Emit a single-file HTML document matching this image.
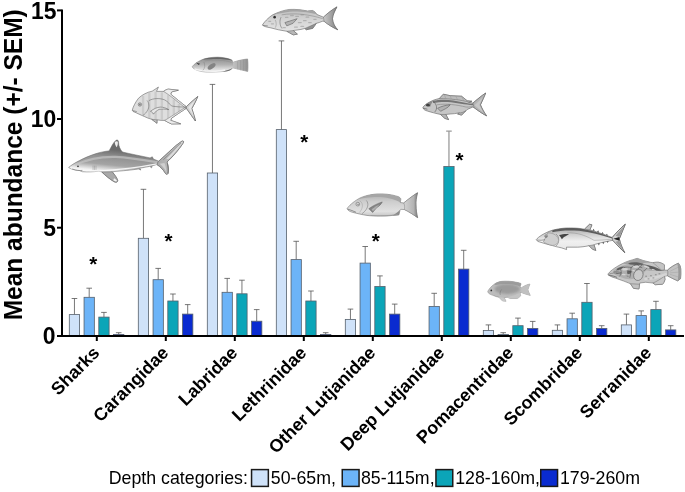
<!DOCTYPE html>
<html><head><meta charset="utf-8"><title>Mean abundance by depth</title>
<style>html,body{margin:0;padding:0;background:#fff}svg{display:block}</style></head>
<body>
<svg width="685" height="492" viewBox="0 0 685 492" font-family="'Liberation Sans', Arial, sans-serif">
<rect width="685" height="492" fill="#fff"/>
<defs>
<linearGradient id="gS" x1="0" y1="0" x2="0" y2="1"><stop offset="0" stop-color="#6f6f6f"/><stop offset="0.45" stop-color="#a9a9a9"/><stop offset="0.7" stop-color="#dcdcdc"/><stop offset="1" stop-color="#f2f2f2"/></linearGradient>
<linearGradient id="gA" x1="0" y1="0" x2="0" y2="1"><stop offset="0" stop-color="#a6a6a6"/><stop offset="0.55" stop-color="#c6c6c6"/><stop offset="1" stop-color="#e6e6e6"/></linearGradient>
<linearGradient id="gB" x1="0" y1="0" x2="0" y2="1"><stop offset="0" stop-color="#8c8c8c"/><stop offset="0.5" stop-color="#b4b4b4"/><stop offset="1" stop-color="#e2e2e2"/></linearGradient>
<linearGradient id="gT" x1="0" y1="0" x2="0" y2="1"><stop offset="0" stop-color="#8a8a8a"/><stop offset="0.35" stop-color="#cfcfcf"/><stop offset="0.6" stop-color="#f0f0f0"/><stop offset="1" stop-color="#e4e4e4"/></linearGradient>
<linearGradient id="gS2" gradientUnits="userSpaceOnUse" x1="300" y1="88" x2="288" y2="208"><stop offset="0" stop-color="#6a6a6a"/><stop offset="0.35" stop-color="#939393"/><stop offset="0.7" stop-color="#a4a4a4"/><stop offset="0.88" stop-color="#d4d4d4"/><stop offset="1" stop-color="#f4f4f4"/></linearGradient>
<linearGradient id="gW" x1="0" y1="0" x2="0" y2="1"><stop offset="0" stop-color="#8a8a8a"/><stop offset="0.5" stop-color="#b2b2b2"/><stop offset="0.8" stop-color="#dcdcdc"/><stop offset="1" stop-color="#ececec"/></linearGradient>
<linearGradient id="gWt" x1="0" y1="0" x2="1" y2="0"><stop offset="0" stop-color="#c2c2c2"/><stop offset="1" stop-color="#949494"/></linearGradient>
<linearGradient id="gL" x1="0" y1="0" x2="0" y2="1"><stop offset="0" stop-color="#b8b8b8"/><stop offset="0.5" stop-color="#d6d6d6"/><stop offset="1" stop-color="#e8e8e8"/></linearGradient>
<linearGradient id="gLt" x1="0" y1="0" x2="1" y2="0"><stop offset="0" stop-color="#cacaca"/><stop offset="1" stop-color="#808080"/></linearGradient>
<linearGradient id="gO" x1="0" y1="0" x2="0" y2="1"><stop offset="0" stop-color="#a8a8a8"/><stop offset="0.35" stop-color="#cdcdcd"/><stop offset="0.75" stop-color="#e0e0e0"/><stop offset="1" stop-color="#bcbcbc"/></linearGradient>
<linearGradient id="gOt" x1="0" y1="0" x2="1" y2="0"><stop offset="0" stop-color="#d4d4d4"/><stop offset="0.7" stop-color="#b4b4b4"/><stop offset="1" stop-color="#7c7c7c"/></linearGradient>
<filter id="bl" x="-20%" y="-30%" width="140%" height="160%"><feGaussianBlur stdDeviation="14"/></filter>
<linearGradient id="gSt" x1="0" y1="0" x2="1" y2="0"><stop offset="0" stop-color="#a8a8a8"/><stop offset="0.5" stop-color="#bcbcbc"/><stop offset="1" stop-color="#d6d6d6"/></linearGradient>
</defs>
<!-- shark -->
<g transform="translate(64 134) scale(0.18393)" stroke-linejoin="round">
<path d="M25 182 C50 160 110 128 170 108 C200 98 225 94 245 92 C258 70 268 45 283 34 C292 30 298 36 297 48 C297 65 305 85 318 98 C360 108 420 120 468 130 L480 124 L486 136 L515 148 C560 110 600 65 642 38 C652 36 652 44 646 52 C625 85 585 130 560 152 C566 170 570 195 566 214 C562 222 554 220 550 212 C540 195 525 178 505 166 L480 172 L476 184 L466 176 C445 180 425 184 412 186 L418 196 L404 190 C370 196 320 200 262 205 C275 222 290 240 292 254 C290 264 280 264 270 258 C250 246 225 226 205 206 L190 202 C160 206 130 207 100 205 L82 198 C60 196 38 192 25 182 Z" fill="url(#gS2)" stroke="#6a6a6a" stroke-width="3"/>
<path d="M60 168 C120 140 200 122 280 124 C360 128 440 142 510 154" fill="none" stroke="#c4c4c4" stroke-width="12" opacity="0.7"/>
<path d="M40 186 C80 200 130 203 200 200 C300 194 420 180 505 163" fill="none" stroke="#fafafa" stroke-width="7" opacity="0.9"/>
<path d="M262 205 C275 222 290 240 292 254 C290 264 280 264 270 258 C250 246 225 226 205 206 Z" fill="#a9a9a9" stroke="#5c5c5c" stroke-width="3"/>
<path d="M272 240 C282 246 288 252 288 256 C284 260 276 258 268 252 Z" fill="#f4f4f4"/>
<path d="M276 44 C282 38 292 36 293 46 C293 58 290 66 286 72 C280 64 276 54 276 44 Z" fill="#ececec"/>
<path d="M512 150 C560 110 600 65 642 38 C652 36 652 44 646 52 C625 85 585 130 560 152 C566 170 570 195 566 214 C562 222 554 220 550 212 C540 195 525 178 505 166 Z" fill="url(#gSt)" stroke="#666" stroke-width="3"/>
<path d="M540 140 C575 108 610 72 636 48" fill="none" stroke="#7a7a7a" stroke-width="4"/>
<path d="M556 136 C585 108 615 76 636 52 C622 78 598 108 572 134 Z" fill="#dedede"/>
<path d="M562 160 C567 180 568 200 564 214" fill="none" stroke="#777" stroke-width="5"/>
<path d="M520 162 C535 172 548 190 556 206 C556 190 552 172 546 158 Z" fill="#d0d0d0"/>
<circle cx="76" cy="176" r="4.5" fill="#222"/>
<path d="M45 190 C65 198 85 200 100 198" stroke="#555" stroke-width="3" fill="none"/>
<path d="M158 172 v24 M166 172 v24 M174 172 v24" stroke="#777" stroke-width="2" fill="none"/>
</g>
<!-- carangid -->
<g transform="translate(126 80) scale(0.11387)" stroke-linejoin="round">
<path d="M55 265 C60 240 85 190 110 160 C140 130 190 105 230 98 L285 62 L268 100 L330 100 C345 88 360 82 372 80 L460 90 L402 104 L392 124 C430 155 490 205 530 235 C560 205 600 170 630 145 C615 185 598 215 578 250 C590 290 605 330 610 360 C590 335 560 290 530 248 C510 262 450 300 402 334 L392 354 L480 385 L400 386 C375 375 355 365 340 355 C320 356 295 354 272 350 L272 380 L225 345 C200 338 180 330 160 320 C130 308 100 292 62 276 Z" fill="#dedede" stroke="#5c5c5c" stroke-width="5"/>
<path d="M150 140 V312 M205 112 V335 M260 104 V346 M315 108 V350 M370 135 V338 M420 172 V306 M465 210 V278" stroke="#b8b8b8" stroke-width="20" opacity="0.5" fill="none"/>
<path d="M330 100 C345 88 360 82 372 80 L460 90 L402 104 L392 124 C430 155 490 205 530 235 L515 240 C470 205 410 155 372 128 Z" fill="#ececec" stroke="#5c5c5c" stroke-width="4"/>
<path d="M340 355 C355 365 375 375 400 386 L480 385 L392 354 L402 334 C450 300 510 262 530 248 L512 246 C460 280 400 318 372 336 Z" fill="#ececec" stroke="#5c5c5c" stroke-width="4"/>
<path d="M530 235 C560 205 600 170 630 145 C615 185 598 215 578 250 C590 290 605 330 610 360 C590 335 560 290 530 248 Z" fill="#d2d2d2" stroke="#5c5c5c" stroke-width="5"/>
<path d="M548 240 L600 185 L572 250 L596 320 Z" fill="#e8e8e8"/>
<path d="M185 180 C205 200 205 240 190 265 C180 285 165 300 150 310" fill="none" stroke="#5c5c5c" stroke-width="4.5"/>
<path d="M200 182 C240 158 300 158 340 175 C370 190 385 215 400 228 C440 236 490 238 530 238" fill="none" stroke="#5c5c5c" stroke-width="4.5"/>
<path d="M215 275 C240 255 270 240 300 238 C330 238 355 248 375 260 C345 254 315 254 290 258 C270 270 250 285 240 300 C236 290 232 282 215 275 Z" fill="#e6e6e6" stroke="#555" stroke-width="4.5"/>
<path d="M225 345 L272 380 L272 350 Z" fill="#c4c4c4" stroke="#5c5c5c" stroke-width="4"/>
<circle cx="122" cy="215" r="15" fill="#c4c4c4" stroke="#5c5c5c" stroke-width="4.5"/><circle cx="122" cy="215" r="6" fill="#666"/>
<path d="M58 268 L95 278" stroke="#555" stroke-width="4.5" fill="none"/>
</g>
<!-- wrasse -->
<g transform="translate(186 50) scale(0.09927)" stroke-linejoin="round">
<path d="M62 170 C75 150 100 125 160 98 C200 82 260 72 320 72 C370 74 420 82 462 100 C468 108 470 116 472 126 C500 112 560 98 620 90 C626 130 626 180 622 216 C570 204 510 190 472 180 L462 190 C440 205 410 214 380 216 C330 220 260 224 200 222 C150 218 110 206 80 190 Z" fill="url(#gW)" stroke="#7a7a7a" stroke-width="5"/>
<path d="M160 96 C220 74 320 66 400 80 C430 86 452 94 466 104 C430 98 330 86 250 92 Z" fill="#666"/>
<path d="M472 126 C500 112 560 98 620 90 C626 130 626 180 622 216 C570 204 510 190 472 180 C476 160 476 145 472 126 Z" fill="url(#gWt)"/>
<path d="M520 112 V196 M550 104 V204 M580 98 V210 M606 94 V214" stroke="#8a8a8a" stroke-width="5" opacity="0.7"/>
<path d="M84 190 C130 210 200 216 300 214 C340 212 370 208 395 202" fill="none" stroke="#f6f6f6" stroke-width="16" opacity="0.9"/>
<ellipse cx="258" cy="165" rx="46" ry="22" transform="rotate(-35 258 165)" fill="#848484"/>
<path d="M100 126 L142 138 L128 152 Z" fill="#3c3c3c"/>
<path d="M180 120 C195 150 190 185 170 205" fill="none" stroke="#777" stroke-width="4"/>
<path d="M372 216 C410 208 440 198 466 184 C450 208 410 220 372 216 Z" fill="#6a6a6a"/>
<path d="M190 110 C280 92 380 100 460 125" fill="none" stroke="#8a8a8a" stroke-width="6" opacity="0.7"/>
</g>
<!-- lethrinid -->
<g transform="translate(256 2) scale(0.12847)" stroke-linejoin="round">
<path d="M50 180 C60 160 95 122 130 100 C170 80 220 62 262 58 C310 55 360 62 400 70 L440 66 C458 74 468 86 472 96 L525 118 C560 85 600 55 630 38 C612 72 598 100 595 130 C598 165 615 195 636 216 C600 200 560 175 530 150 L516 150 C500 158 485 162 470 166 L442 205 L392 216 L380 206 C360 212 340 216 320 218 L290 222 L322 250 L290 256 L240 228 C200 222 150 212 110 200 C85 196 65 192 50 180 Z" fill="url(#gL)" stroke="#5e5e5e" stroke-width="4.5"/>
<path d="M130 100 C170 80 220 62 262 58 C310 55 360 62 400 70 L440 66 C458 74 468 86 472 96 C420 80 330 70 260 76 C210 82 170 92 130 100 Z" fill="#a4a4a4"/>
<path d="M525 118 C560 85 600 55 630 38 C612 72 598 100 595 130 C598 165 615 195 636 216 C600 200 560 175 530 150 Z" fill="url(#gLt)" stroke="#5e5e5e" stroke-width="3.5"/>
<path d="M230 120 h18 M270 105 h20 M310 112 h20 M350 100 h18 M390 118 h20 M250 150 h0 M330 160 h22 M370 145 h20 M410 160 h20 M300 195 h22 M350 190 h20 M450 135 h18 M210 200 h18 M120 170 h16 M100 150 h14" stroke="#9a9a9a" stroke-width="10" stroke-linecap="round" opacity="0.6"/>
<path d="M225 160 L320 130 L288 166 L240 186 Z" fill="#b4b4b4" stroke="#555" stroke-width="4"/>
<path d="M195 118 C182 145 184 180 202 206" fill="none" stroke="#5e5e5e" stroke-width="4"/>
<path d="M150 140 C160 160 160 185 150 200" fill="none" stroke="#777" stroke-width="3"/>
<circle cx="145" cy="118" r="10" fill="#2c2c2c"/>
<path d="M52 182 L92 186" stroke="#555" stroke-width="4"/>
<path d="M200 100 C300 82 420 98 520 130" fill="none" stroke="#777" stroke-width="3.5"/>
<path d="M442 205 L392 216 L380 206 L470 166 Z" fill="#909090" stroke="#5e5e5e" stroke-width="3"/>
<path d="M240 228 L290 256 L322 250 L290 222 Z" fill="#b8b8b8" stroke="#5e5e5e" stroke-width="3.5"/>
</g>
<!-- other lutjanid -->
<g transform="translate(340 186) scale(0.12263)" stroke-linejoin="round">
<path d="M58 185 C68 165 110 128 150 105 C180 88 225 72 300 65 C350 62 420 68 470 85 C485 90 496 98 496 108 L492 135 L520 138 C560 105 600 75 632 55 C622 100 618 125 620 155 C620 195 626 230 633 258 C600 235 560 208 525 192 L496 190 L490 196 L480 236 L430 240 C400 244 365 246 330 245 C290 245 250 244 220 240 C180 234 130 222 100 214 C80 208 65 200 58 185 Z" fill="url(#gO)" stroke="#6a6a6a" stroke-width="4.5"/>
<path d="M150 105 C180 88 225 72 300 65 C350 62 420 68 470 85 C485 90 496 98 496 108 L492 135 C440 100 340 84 260 92 C215 96 180 100 150 105 Z" fill="#a6a6a6"/>
<path d="M520 138 C560 105 600 75 632 55 C622 100 618 125 620 155 C620 195 626 230 633 258 C600 235 560 208 525 192 C528 175 528 155 520 138 Z" fill="url(#gOt)" stroke="#666" stroke-width="3"/>
<path d="M235 185 C270 160 310 140 345 130 C335 150 318 165 300 176 L266 216 C255 205 245 195 235 185 Z" fill="#858585" stroke="#555" stroke-width="3.5"/>
<path d="M258 190 C280 172 300 160 322 150 L290 185 L268 206 Z" fill="#b0b0b0"/>
<path d="M215 118 C235 140 235 185 180 226" fill="none" stroke="#6a6a6a" stroke-width="4"/>
<path d="M160 120 C185 135 195 170 160 215" fill="none" stroke="#888" stroke-width="3"/>
<circle cx="145" cy="148" r="15" fill="#d8d8d8" stroke="#666" stroke-width="4.5"/><circle cx="147" cy="150" r="5" fill="#777"/>
<path d="M62 188 C85 196 110 204 130 214" fill="none" stroke="#555" stroke-width="5"/>
<path d="M430 240 L480 236 L490 196 C470 215 450 228 430 240 Z" fill="#8c8c8c"/>
<path d="M250 240 C320 246 400 244 470 232" fill="none" stroke="#9a9a9a" stroke-width="7" opacity="0.8"/>
</g>
<!-- deep lutjanid -->
<g transform="translate(416 86) scale(0.11387)" stroke-linejoin="round">
<path d="M60 190 C68 172 100 148 150 126 C170 118 190 113 205 110 L240 72 L300 85 L400 90 L450 130 L490 134 L462 142 L500 150 C530 125 575 85 612 62 C598 95 585 125 566 165 C580 200 600 235 620 262 C585 245 545 215 510 190 L496 186 C480 192 465 200 450 206 L440 216 L400 256 L366 246 L380 236 C350 242 325 245 300 246 L262 250 L286 295 L254 285 L215 250 C180 242 130 230 100 220 C80 214 65 206 60 190 Z" fill="#c6c6c6" stroke="#5a5a5a" stroke-width="5"/>
<path d="M205 110 L240 72 L300 85 L400 90 L450 130 L490 134 L462 142 C400 122 300 112 205 110 Z" fill="#bcbcbc" stroke="#5a5a5a" stroke-width="4"/>
<path d="M250 80 L262 110 M300 86 L310 112 M350 90 L365 120 M400 92 L420 130" stroke="#888" stroke-width="3"/>
<path d="M150 130 C220 112 320 118 420 145 C450 152 480 156 500 156 L500 168 C440 165 350 145 280 140 C230 138 185 142 150 150 Z" fill="#747474"/>
<path d="M185 165 C260 152 360 165 440 185 C470 186 490 182 500 178" fill="none" stroke="#8a8a8a" stroke-width="6"/>
<path d="M500 150 C530 125 575 85 612 62 C598 95 585 125 566 165 C580 200 600 235 620 262 C585 245 545 215 510 190 Z" fill="#b4b4b4" stroke="#5a5a5a" stroke-width="4.5"/>
<path d="M515 168 L585 100 L556 166 L590 232 Z" fill="#c8c8c8"/>
<path d="M190 195 C225 178 262 168 300 165 C290 180 275 192 258 200 L216 222 Z" fill="#b2b2b2" stroke="#505050" stroke-width="4.5"/>
<path d="M150 135 C185 160 190 200 165 228" fill="none" stroke="#505050" stroke-width="5"/>
<path d="M80 170 C95 150 125 136 150 130 C140 150 130 165 125 182 Z" fill="#8a8a8a"/>
<ellipse cx="105" cy="168" rx="16" ry="12" fill="#404040"/>
<path d="M62 194 L100 204" stroke="#505050" stroke-width="5"/>
<path d="M366 246 L400 256 L440 216 C420 228 395 238 380 236 Z" fill="#b0b0b0" stroke="#5a5a5a" stroke-width="3.5"/>
<path d="M215 250 L254 285 L286 295 L262 250 Z" fill="#b6b6b6" stroke="#5a5a5a" stroke-width="4"/>
</g>
<!-- pomacentrid -->
<g transform="translate(482 276) scale(0.07883)" stroke-linejoin="round">
<path d="M72 200 C80 175 110 135 160 100 C190 82 220 72 250 68 C300 62 380 66 440 80 C470 86 490 92 496 98 L482 140 L500 150 C530 128 570 108 608 102 C598 130 588 155 582 176 C590 200 602 225 612 246 C580 240 540 225 500 210 L482 216 L490 250 C475 270 458 282 440 286 L360 286 L320 270 L282 276 L305 320 L260 316 L215 270 C190 265 170 258 150 250 C125 242 100 232 85 220 Z" fill="#bcbcbc" stroke="#808080" stroke-width="6"/>
<path d="M160 100 C190 82 220 72 250 68 C300 62 380 66 440 80 C470 86 490 92 496 98 L484 134 C440 112 380 100 320 100 C260 100 200 104 160 118 Z" fill="#9c9c9c"/>
<ellipse cx="320" cy="165" rx="160" ry="62" fill="#969696" opacity="0.85" filter="url(#bl)"/>
<path d="M500 150 C530 128 570 108 608 102 C598 130 588 155 582 176 C590 200 602 225 612 246 C580 240 540 225 500 210 Z" fill="#c0c0c0"/>
<path d="M320 270 L360 286 L440 286 C458 282 475 270 490 250 L482 216 C440 235 380 255 320 270 Z" fill="#c4c4c4"/>
<path d="M215 270 L260 316 L305 320 L282 276 Z" fill="#c8c8c8"/>
<path d="M250 170 C232 190 225 215 232 238" fill="none" stroke="#7c7c7c" stroke-width="8"/>
<circle cx="118" cy="183" r="11" fill="#2a2a2a"/>
</g>
<!-- scombrid -->
<g transform="translate(530 218) scale(0.14891)" stroke-linejoin="round">
<path d="M42 145 C55 128 95 100 150 82 C180 74 205 70 230 68 C260 66 320 66 366 75 L400 42 L416 46 L402 80 C440 90 500 110 552 131 C575 105 610 65 640 42 C628 75 612 105 600 140 C606 170 620 205 636 232 C615 215 585 180 556 150 C530 154 480 164 440 176 L430 180 L442 218 L420 210 L396 186 C370 192 340 195 320 196 L245 196 L246 212 L210 200 C185 195 165 190 150 185 C120 178 85 168 52 157 Z" fill="url(#gT)" stroke="#4c4c4c" stroke-width="3.5"/>
<path d="M150 82 C180 74 205 70 230 68 C260 66 320 66 366 75 C420 86 500 110 552 131 L552 138 C480 115 400 95 330 86 C260 80 200 84 150 96 Z" fill="#5c5c5c"/>
<path d="M552 131 C575 105 610 65 640 42 C628 75 612 105 600 140 C606 170 620 205 636 232 C615 215 585 180 556 150 Z" fill="#d4d4d4" stroke="#444" stroke-width="4"/>
<path d="M575 120 C595 95 620 65 636 48 C622 78 610 105 600 128 Z M600 152 C606 175 618 205 632 226 C612 205 592 180 575 160 Z" fill="#9a9a9a"/>
<path d="M560 140 L600 128 L600 152 Z" fill="#222"/>
<path d="M195 115 C215 108 240 106 262 108 C250 118 238 124 228 128 L214 142 C208 132 202 124 195 115 Z" fill="#444"/>
<path d="M175 108 C198 125 200 165 175 188" fill="none" stroke="#666" stroke-width="3.5"/>
<path d="M250 100 C320 96 380 120 430 150 C470 150 510 146 552 142" fill="none" stroke="#888" stroke-width="3"/>
<path d="M120 100 C160 100 190 120 192 150 C190 172 170 186 150 184 C125 180 105 170 90 160 C100 140 110 120 120 100 Z" fill="#cfcfcf" stroke="#777" stroke-width="3"/>
<circle cx="108" cy="122" r="9" fill="#ccc" stroke="#555" stroke-width="3.5"/><circle cx="108" cy="122" r="3.5" fill="#333"/>
<path d="M46 148 C65 150 85 150 100 146" fill="none" stroke="#555" stroke-width="3.5"/>
<path d="M366 75 L400 42 L416 46 L402 80 Z" fill="#c4c4c4" stroke="#666" stroke-width="3.5"/>
<path d="M396 186 L420 210 L442 218 L430 180 Z" fill="#b8b8b8" stroke="#666" stroke-width="3.5"/>
<path d="M420 84 l8 -12 l6 16 Z M450 94 l8 -11 l6 15 Z M480 104 l8 -10 l6 14 Z M510 114 l7 -9 l6 13 Z M455 172 l8 12 l6 -15 Z M485 165 l8 11 l6 -14 Z M515 158 l7 10 l6 -13 Z" fill="#555"/>
</g>
<!-- serranid -->
<g transform="translate(602 252) scale(0.12117)" stroke-linejoin="round">
<path d="M48 185 C58 165 100 130 170 95 C200 80 230 70 250 65 L290 52 L340 70 L400 85 L420 88 C440 84 458 84 470 85 C490 90 505 98 515 106 L515 146 L492 150 L540 150 C560 130 600 105 630 92 C642 105 648 122 650 140 C652 170 650 195 648 220 L625 238 C600 228 570 212 540 196 L516 200 L520 226 C515 245 508 258 500 266 L440 270 L420 256 C400 254 380 252 360 250 L312 256 L310 266 L305 305 L260 300 L235 262 C210 252 195 246 180 240 C150 230 130 222 110 215 C85 208 65 200 48 185 Z" fill="#c6c6c6" stroke="#606060" stroke-width="4.5"/>
<path d="M170 95 C200 80 230 70 250 65 L290 52 L340 70 L400 85 C360 92 300 96 250 100 C215 102 190 100 170 95 Z" fill="#a2a2a2"/>
<path d="M420 88 C440 84 458 84 470 85 C490 90 505 98 515 106 L515 146 L492 150 C470 130 445 108 420 88 Z" fill="#c4c4c4" stroke="#707070" stroke-width="3.5"/>
<path d="M95 150 C150 112 220 92 290 92 C350 94 420 115 480 148 C440 160 400 160 370 150 C350 160 340 180 335 200 C300 215 260 225 225 225 C185 220 140 205 105 185 Z" fill="#8c8c8c" opacity="0.4"/>
<path d="M120 150 C150 128 200 118 240 128 M240 128 C255 110 290 100 330 104 M330 104 C360 104 400 118 430 136 M150 140 C165 160 160 185 145 200 M240 128 C235 155 240 180 230 210 M185 125 C200 145 215 160 240 165 M330 104 C320 125 300 140 280 150 M380 116 C375 135 360 148 345 155 M120 175 C150 178 185 185 215 200 M95 165 C120 160 140 165 160 172 M290 98 C300 115 310 125 330 130 M430 136 C440 150 470 156 490 152" fill="none" stroke="#585858" stroke-width="5" stroke-linecap="round"/>
<path d="M215 92 C250 80 300 80 345 98 C320 108 270 110 230 104 Z M370 112 C410 112 455 128 490 150 C455 158 410 150 385 132 Z M120 140 C135 128 160 120 180 120 C170 135 150 148 130 152 Z M205 160 C220 150 235 150 245 158 C240 175 225 185 210 182 Z" fill="#505050" opacity="0.8"/>
<path d="M165 138 C185 130 205 132 218 140 C205 152 185 155 170 150 Z M255 118 C275 110 300 112 312 120 C298 132 270 134 258 128 Z M160 180 C180 178 200 184 212 192 C195 198 172 194 162 188 Z M345 112 C365 112 385 120 395 130 C378 134 358 128 348 120 Z M250 150 C262 148 272 152 276 158 C266 164 254 160 250 155 Z M410 140 C425 140 440 146 448 152 C432 154 418 150 410 144 Z" fill="#d4d4d4"/>
<path d="M540 150 C560 130 600 105 630 92 C642 105 648 122 650 140 C652 170 650 195 648 220 L625 238 C600 228 570 212 540 196 C545 180 545 165 540 150 Z" fill="#c2c2c2" stroke="#666" stroke-width="4"/>
<path d="M630 92 C642 105 648 122 650 140 C652 170 650 195 648 220 L625 238 C632 200 634 150 622 98 Z" fill="#9a9a9a"/>
<path d="M560 160 L640 120 M562 172 L648 165 M560 184 L642 210" stroke="#999" stroke-width="3"/>
<ellipse cx="300" cy="190" rx="38" ry="46" transform="rotate(20 300 190)" fill="#cacaca" stroke="#5a5a5a" stroke-width="4.5"/>
<path d="M235 262 L260 300 L305 305 L310 266 Z" fill="#c2c2c2" stroke="#666" stroke-width="4"/>
<path d="M420 256 L440 270 L500 266 C508 258 515 245 520 226 L516 200 C480 225 450 245 420 256 Z" fill="#c8c8c8" stroke="#666" stroke-width="4"/>
<path d="M350 225 C410 222 470 206 535 182" fill="none" stroke="#dcdcdc" stroke-width="22" opacity="0.7"/>
<path d="M360 200 h8 M400 196 h8 M440 188 h8 M380 222 h8 M420 214 h8 M470 180 h8" stroke="#666" stroke-width="5" stroke-linecap="round"/>
<path d="M52 190 C80 195 105 200 125 210" fill="none" stroke="#444" stroke-width="5"/>
<path d="M60 182 C85 172 110 172 130 178" fill="none" stroke="#555" stroke-width="4"/>
</g>

<path d="M74.45 314.60V298.50M71.65 298.50H77.25" stroke="#555" stroke-width="0.8" fill="none"/>
<rect x="69.30" y="314.60" width="10.3" height="21.40" fill="#cfe2f9" stroke="#56606c" stroke-width="0.8"/>
<path d="M89.20 297.30V288.20M86.40 288.20H92.00" stroke="#555" stroke-width="0.8" fill="none"/>
<rect x="84.05" y="297.30" width="10.3" height="38.70" fill="#6cb4f8" stroke="#56606c" stroke-width="0.8"/>
<path d="M103.95 317.10V312.40M101.15 312.40H106.75" stroke="#555" stroke-width="0.8" fill="none"/>
<rect x="98.80" y="317.10" width="10.3" height="18.90" fill="#0ba5b8" stroke="#56606c" stroke-width="0.8"/>
<path d="M118.70 334.50V332.70M115.90 332.70H121.50" stroke="#555" stroke-width="0.8" fill="none"/>
<rect x="113.55" y="334.50" width="10.3" height="1.50" fill="#0a2bd0" stroke="#56606c" stroke-width="0.8"/>
<path d="M143.45 238.30V189.30M140.65 189.30H146.25" stroke="#555" stroke-width="0.8" fill="none"/>
<rect x="138.30" y="238.30" width="10.3" height="97.70" fill="#cfe2f9" stroke="#56606c" stroke-width="0.8"/>
<path d="M158.20 279.70V268.40M155.40 268.40H161.00" stroke="#555" stroke-width="0.8" fill="none"/>
<rect x="153.05" y="279.70" width="10.3" height="56.30" fill="#6cb4f8" stroke="#56606c" stroke-width="0.8"/>
<path d="M172.95 301.00V294.00M170.15 294.00H175.75" stroke="#555" stroke-width="0.8" fill="none"/>
<rect x="167.80" y="301.00" width="10.3" height="35.00" fill="#0ba5b8" stroke="#56606c" stroke-width="0.8"/>
<path d="M187.70 314.10V304.60M184.90 304.60H190.50" stroke="#555" stroke-width="0.8" fill="none"/>
<rect x="182.55" y="314.10" width="10.3" height="21.90" fill="#0a2bd0" stroke="#56606c" stroke-width="0.8"/>
<path d="M212.45 173.00V84.40M209.65 84.40H215.25" stroke="#555" stroke-width="0.8" fill="none"/>
<rect x="207.30" y="173.00" width="10.3" height="163.00" fill="#cfe2f9" stroke="#56606c" stroke-width="0.8"/>
<path d="M227.20 292.30V278.40M224.40 278.40H230.00" stroke="#555" stroke-width="0.8" fill="none"/>
<rect x="222.05" y="292.30" width="10.3" height="43.70" fill="#6cb4f8" stroke="#56606c" stroke-width="0.8"/>
<path d="M241.95 293.80V280.20M239.15 280.20H244.75" stroke="#555" stroke-width="0.8" fill="none"/>
<rect x="236.80" y="293.80" width="10.3" height="42.20" fill="#0ba5b8" stroke="#56606c" stroke-width="0.8"/>
<path d="M256.70 321.20V309.60M253.90 309.60H259.50" stroke="#555" stroke-width="0.8" fill="none"/>
<rect x="251.55" y="321.20" width="10.3" height="14.80" fill="#0a2bd0" stroke="#56606c" stroke-width="0.8"/>
<path d="M281.45 129.60V40.90M278.65 40.90H284.25" stroke="#555" stroke-width="0.8" fill="none"/>
<rect x="276.30" y="129.60" width="10.3" height="206.40" fill="#cfe2f9" stroke="#56606c" stroke-width="0.8"/>
<path d="M296.20 259.60V241.30M293.40 241.30H299.00" stroke="#555" stroke-width="0.8" fill="none"/>
<rect x="291.05" y="259.60" width="10.3" height="76.40" fill="#6cb4f8" stroke="#56606c" stroke-width="0.8"/>
<path d="M310.95 301.00V291.00M308.15 291.00H313.75" stroke="#555" stroke-width="0.8" fill="none"/>
<rect x="305.80" y="301.00" width="10.3" height="35.00" fill="#0ba5b8" stroke="#56606c" stroke-width="0.8"/>
<path d="M325.70 334.50V332.70M322.90 332.70H328.50" stroke="#555" stroke-width="0.8" fill="none"/>
<rect x="320.55" y="334.50" width="10.3" height="1.50" fill="#0a2bd0" stroke="#56606c" stroke-width="0.8"/>
<path d="M350.45 319.40V309.10M347.65 309.10H353.25" stroke="#555" stroke-width="0.8" fill="none"/>
<rect x="345.30" y="319.40" width="10.3" height="16.60" fill="#cfe2f9" stroke="#56606c" stroke-width="0.8"/>
<path d="M365.20 263.10V246.50M362.40 246.50H368.00" stroke="#555" stroke-width="0.8" fill="none"/>
<rect x="360.05" y="263.10" width="10.3" height="72.90" fill="#6cb4f8" stroke="#56606c" stroke-width="0.8"/>
<path d="M379.95 286.50V275.90M377.15 275.90H382.75" stroke="#555" stroke-width="0.8" fill="none"/>
<rect x="374.80" y="286.50" width="10.3" height="49.50" fill="#0ba5b8" stroke="#56606c" stroke-width="0.8"/>
<path d="M394.70 314.10V304.10M391.90 304.10H397.50" stroke="#555" stroke-width="0.8" fill="none"/>
<rect x="389.55" y="314.10" width="10.3" height="21.90" fill="#0a2bd0" stroke="#56606c" stroke-width="0.8"/>
<path d="M434.20 306.40V293.30M431.40 293.30H437.00" stroke="#555" stroke-width="0.8" fill="none"/>
<rect x="429.05" y="306.40" width="10.3" height="29.60" fill="#6cb4f8" stroke="#56606c" stroke-width="0.8"/>
<path d="M448.95 166.50V131.10M446.15 131.10H451.75" stroke="#9c9c9c" stroke-width="1.3" fill="none"/>
<rect x="443.80" y="166.50" width="10.3" height="169.50" fill="#0ba5b8" stroke="#56606c" stroke-width="0.8"/>
<path d="M463.70 269.10V250.30M460.90 250.30H466.50" stroke="#555" stroke-width="0.8" fill="none"/>
<rect x="458.55" y="269.10" width="10.3" height="66.90" fill="#0a2bd0" stroke="#56606c" stroke-width="0.8"/>
<path d="M488.45 330.50V324.90M485.65 324.90H491.25" stroke="#555" stroke-width="0.8" fill="none"/>
<rect x="483.30" y="330.50" width="10.3" height="5.50" fill="#cfe2f9" stroke="#56606c" stroke-width="0.8"/>
<path d="M503.20 334.50V332.70M500.40 332.70H506.00" stroke="#555" stroke-width="0.8" fill="none"/>
<rect x="498.05" y="334.50" width="10.3" height="1.50" fill="#6cb4f8" stroke="#56606c" stroke-width="0.8"/>
<path d="M517.95 325.70V318.10M515.15 318.10H520.75" stroke="#555" stroke-width="0.8" fill="none"/>
<rect x="512.80" y="325.70" width="10.3" height="10.30" fill="#0ba5b8" stroke="#56606c" stroke-width="0.8"/>
<path d="M532.70 328.40V321.40M529.90 321.40H535.50" stroke="#555" stroke-width="0.8" fill="none"/>
<rect x="527.55" y="328.40" width="10.3" height="7.60" fill="#0a2bd0" stroke="#56606c" stroke-width="0.8"/>
<path d="M557.45 330.30V324.90M554.65 324.90H560.25" stroke="#555" stroke-width="0.8" fill="none"/>
<rect x="552.30" y="330.30" width="10.3" height="5.70" fill="#cfe2f9" stroke="#56606c" stroke-width="0.8"/>
<path d="M572.20 318.80V313.20M569.40 313.20H575.00" stroke="#555" stroke-width="0.8" fill="none"/>
<rect x="567.05" y="318.80" width="10.3" height="17.20" fill="#6cb4f8" stroke="#56606c" stroke-width="0.8"/>
<path d="M586.95 302.30V283.50M584.15 283.50H589.75" stroke="#555" stroke-width="0.8" fill="none"/>
<rect x="581.80" y="302.30" width="10.3" height="33.70" fill="#0ba5b8" stroke="#56606c" stroke-width="0.8"/>
<path d="M601.70 328.40V325.70M598.90 325.70H604.50" stroke="#555" stroke-width="0.8" fill="none"/>
<rect x="596.55" y="328.40" width="10.3" height="7.60" fill="#0a2bd0" stroke="#56606c" stroke-width="0.8"/>
<path d="M626.45 324.90V314.10M623.65 314.10H629.25" stroke="#555" stroke-width="0.8" fill="none"/>
<rect x="621.30" y="324.90" width="10.3" height="11.10" fill="#cfe2f9" stroke="#56606c" stroke-width="0.8"/>
<path d="M641.20 315.60V310.90M638.40 310.90H644.00" stroke="#555" stroke-width="0.8" fill="none"/>
<rect x="636.05" y="315.60" width="10.3" height="20.40" fill="#6cb4f8" stroke="#56606c" stroke-width="0.8"/>
<path d="M655.95 309.60V301.30M653.15 301.30H658.75" stroke="#555" stroke-width="0.8" fill="none"/>
<rect x="650.80" y="309.60" width="10.3" height="26.40" fill="#0ba5b8" stroke="#56606c" stroke-width="0.8"/>
<path d="M670.70 329.90V325.70M667.90 325.70H673.50" stroke="#555" stroke-width="0.8" fill="none"/>
<rect x="665.55" y="329.90" width="10.3" height="6.10" fill="#0a2bd0" stroke="#56606c" stroke-width="0.8"/>
<path d="M62.0 9.4V337.0" stroke="#000" stroke-width="2" fill="none"/>
<path d="M60.6 336.0H684" stroke="#000" stroke-width="2" fill="none"/>
<path d="M57 10.4H61.5" stroke="#000" stroke-width="2"/>
<text transform="translate(56.5 18.8) scale(0.925 1)" font-size="24.8" font-weight="bold" text-anchor="end">15</text>
<path d="M57 119H61.5" stroke="#000" stroke-width="2"/>
<text transform="translate(56.2 127.0) scale(0.925 1)" font-size="24.8" font-weight="bold" text-anchor="end">10</text>
<path d="M57 227.7H61.5" stroke="#000" stroke-width="2"/>
<text transform="translate(56 236.3) scale(0.925 1)" font-size="24.8" font-weight="bold" text-anchor="end">5</text>
<path d="M57 336.0H61.5" stroke="#000" stroke-width="2"/>
<text transform="translate(55.6 344.0) scale(0.925 1)" font-size="24.8" font-weight="bold" text-anchor="end">0</text>
<path d="M96.8 336.0V341" stroke="#000" stroke-width="2"/>
<text transform="translate(100.5 354) rotate(-45)" font-size="17.9" font-weight="bold" text-anchor="end">Sharks</text>
<path d="M165.8 336.0V341" stroke="#000" stroke-width="2"/>
<text transform="translate(169.5 354) rotate(-45)" font-size="17.9" font-weight="bold" text-anchor="end">Carangidae</text>
<path d="M234.8 336.0V341" stroke="#000" stroke-width="2"/>
<text transform="translate(238.5 354) rotate(-45)" font-size="17.9" font-weight="bold" text-anchor="end">Labridae</text>
<path d="M303.8 336.0V341" stroke="#000" stroke-width="2"/>
<text transform="translate(307.5 354) rotate(-45)" font-size="17.9" font-weight="bold" text-anchor="end">Lethrinidae</text>
<path d="M372.8 336.0V341" stroke="#000" stroke-width="2"/>
<text transform="translate(376.5 354) rotate(-45)" font-size="17.9" font-weight="bold" text-anchor="end">Other Lutjanidae</text>
<path d="M441.8 336.0V341" stroke="#000" stroke-width="2"/>
<text transform="translate(445.5 354) rotate(-45)" font-size="17.9" font-weight="bold" text-anchor="end">Deep Lutjanidae</text>
<path d="M510.8 336.0V341" stroke="#000" stroke-width="2"/>
<text transform="translate(514.5 354) rotate(-45)" font-size="17.9" font-weight="bold" text-anchor="end">Pomacentridae</text>
<path d="M579.8 336.0V341" stroke="#000" stroke-width="2"/>
<text transform="translate(583.5 354) rotate(-45)" font-size="17.9" font-weight="bold" text-anchor="end">Scombridae</text>
<path d="M648.8 336.0V341" stroke="#000" stroke-width="2"/>
<text transform="translate(652.5 354) rotate(-45)" font-size="17.9" font-weight="bold" text-anchor="end">Serranidae</text>
<text transform="translate(22.0 164.8) rotate(-90) scale(0.950 1)" font-size="25.8" font-weight="bold" text-anchor="middle">Mean abundance (+/- SEM)</text>
<text x="93.2" y="271.0" font-size="20.6" font-weight="bold" text-anchor="middle">*</text>
<text x="168.5" y="247.5" font-size="20.6" font-weight="bold" text-anchor="middle">*</text>
<text x="304.3" y="148.8" font-size="20.6" font-weight="bold" text-anchor="middle">*</text>
<text x="375.8" y="247.5" font-size="20.6" font-weight="bold" text-anchor="middle">*</text>
<text x="459.4" y="167.1" font-size="20.6" font-weight="bold" text-anchor="middle">*</text>
<text x="108.8" y="484.4" font-size="17.75">Depth categories:</text>
<rect x="251.55" y="469.6" width="16.8" height="16.8" fill="#cfe2f9" stroke="#1a1a1a" stroke-width="1.5"/>
<text x="270.8" y="484.4" font-size="17.75">50-65m,</text>
<rect x="342.25" y="469.6" width="16.8" height="16.8" fill="#6cb4f8" stroke="#1a1a1a" stroke-width="1.5"/>
<text x="360.9" y="484.4" font-size="17.75">85-115m,</text>
<rect x="435.95" y="469.6" width="16.8" height="16.8" fill="#0ba5b8" stroke="#1a1a1a" stroke-width="1.5"/>
<text x="455.2" y="484.4" font-size="17.75">128-160m,</text>
<rect x="540.75" y="469.6" width="16.8" height="16.8" fill="#0a2bd0" stroke="#1a1a1a" stroke-width="1.5"/>
<text x="560.0" y="484.4" font-size="17.75">179-260m</text>
</svg>
</body></html>
